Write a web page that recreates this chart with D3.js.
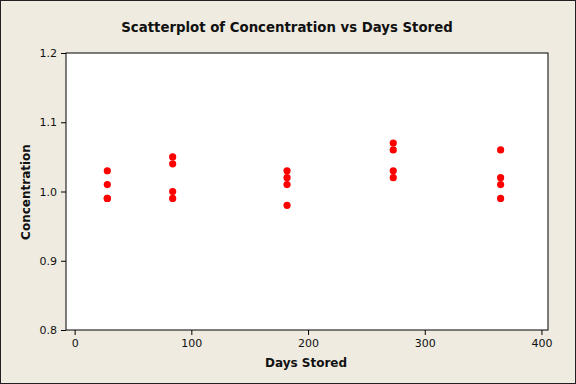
<!DOCTYPE html>
<html>
<head>
<meta charset="utf-8">
<script src="https://cdn.jsdelivr.net/npm/d3@7"></script>
<style>
  body { margin: 0; background: #efebe0; }
  svg { display: block; }
  .tick text { font-family: "DejaVu Sans", sans-serif; font-size: 11px; fill: #111; }
  .axis--label { font-family: "DejaVu Sans", sans-serif; font-size: 12px; font-weight: bold; fill: #111; }
  .title { font-family: "DejaVu Sans", sans-serif; font-size: 13.3px; font-weight: bold; fill: #111; }
</style>
</head>
<body>
<div class="graph"></div>
<script>
// days stored for each measurement group
var days = [28, 84, 182, 273, 365];
// concentration readings, one array per group (duplicates overlap)
var concentrations = [
  [1.03, 1.01, 0.99, 0.99],
  [1.05, 1.04, 1.00, 0.99],
  [1.03, 1.02, 1.01, 0.98],
  [1.07, 1.06, 1.03, 1.02],
  [1.06, 1.02, 1.01, 0.99]
];
var xTicks = [0, 100, 200, 300, 400];
var yTicks = [0.8, 0.9, 1.0, 1.1, 1.2];

var width = 576, height = 384;
var margin = { top: 53, left: 66, right: 28, bottom: 54 };

var points = [];
days.forEach(function(d, i) {
  concentrations[i].forEach(function(c) { points.push({ days: d, conc: c }); });
});

var svg = d3.select(".graph").append("svg")
    .attr("width", width)
    .attr("height", height);

// outer frame
svg.append("rect")
    .attr("x", 0.5).attr("y", 0.5)
    .attr("width", width - 1).attr("height", height - 1)
    .attr("fill", "#efebe0")
    .attr("stroke", "#222");

var xScale = d3.scaleLinear()
    .domain([-7.4, 405.6])
    .range([margin.left, width - margin.right]);
var yScale = d3.scaleLinear()
    .domain([0.8, 1.2])
    .range([height - margin.bottom, margin.top]);

// plot area
svg.append("rect")
    .attr("x", margin.left).attr("y", margin.top)
    .attr("width", width - margin.left - margin.right)
    .attr("height", height - margin.top - margin.bottom)
    .attr("fill", "#fff")
    .attr("stroke", "#000");

var xAxis = d3.axisBottom(xScale)
    .tickValues(xTicks)
    .tickSize(5)
    .tickPadding(4)
    .tickFormat(d3.format("d"));
var yAxis = d3.axisLeft(yScale)
    .tickValues(yTicks)
    .tickSize(5)
    .tickPadding(4)
    .tickFormat(d3.format(".1f"));

svg.append("g")
    .attr("class", "x axis")
    .attr("transform", "translate(0," + (height - margin.bottom) + ")")
    .call(xAxis)
    .call(function(g) { g.select(".domain").remove(); });
svg.append("g")
    .attr("class", "y axis")
    .attr("transform", "translate(" + margin.left + ",0)")
    .call(yAxis)
    .call(function(g) { g.select(".domain").remove(); });

svg.selectAll(".tick line").attr("stroke", "#000");

// points
svg.append("g").selectAll("circle")
    .data(points)
  .enter().append("circle")
    .attr("cx", function(d) { return xScale(d.days); })
    .attr("cy", function(d) { return yScale(d.conc); })
    .attr("r", 3.6)
    .attr("fill", "#ff0000");

// labels
svg.append("text")
    .attr("class", "title")
    .attr("x", 287)
    .attr("y", 32)
    .attr("text-anchor", "middle")
    .text("Scatterplot of Concentration vs Days Stored");

svg.append("text")
    .attr("class", "axis--label")
    .attr("x", 306)
    .attr("y", 367)
    .attr("text-anchor", "middle")
    .text("Days Stored");

svg.append("text")
    .attr("class", "axis--label")
    .attr("transform", "translate(30,192) rotate(-90)")
    .attr("text-anchor", "middle")
    .text("Concentration");
</script>
</body>
</html>
